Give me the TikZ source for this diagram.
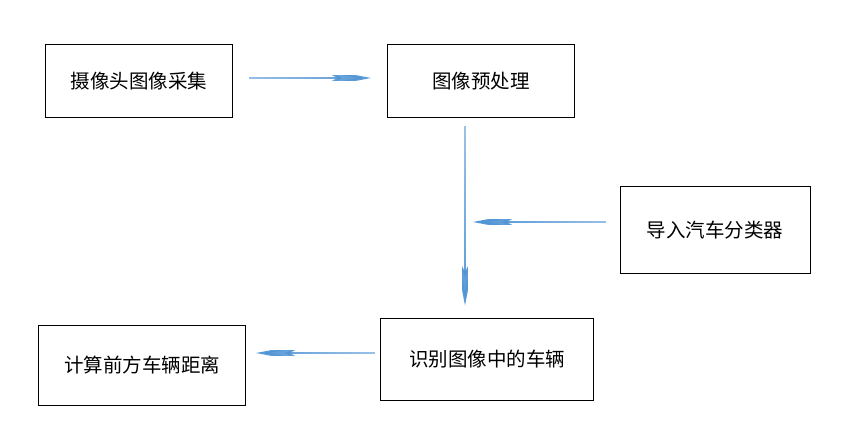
\documentclass[tikz,border=0pt]{standalone}
\usepackage{fontspec}
\setmainfont{Noto Sans CJK SC}
\usepackage{tikz}
\definecolor{flowblue}{RGB}{80,148,212}
\usetikzlibrary{arrows.meta,fadings}
\tikzfading[name=tailfade,left color=transparent!45,right color=transparent!0]

\begin{document}
\begin{tikzpicture}[x=1pt,y=-1pt,
    stepbox/.style={draw,line width=1pt,inner sep=0pt,font=\fontsize{19.5}{23}\selectfont},
    flow/.style={draw=flowblue,line width=2.4pt,path fading=tailfade,-{Stealth[length=52pt,width=20pt,inset=18pt,fill=flowblue]}}
]
\useasboundingbox (0,0) rectangle (844,444);
\node[stepbox,minimum width=187pt,minimum height=72pt] (capture) at (139,81) {摄像头图像采集};
\node[stepbox,minimum width=187pt,minimum height=72pt] (prep) at (481,81) {图像预处理};
\node[stepbox,minimum width=190pt,minimum height=87pt] (classifier) at (715,230) {导入汽车分类器};
\node[stepbox,minimum width=213pt,minimum height=82pt] (detect) at (487,359) {识别图像中的车辆};
\node[stepbox,minimum width=207pt,minimum height=80pt] (distance) at (142,365) {计算前方车辆距离};
\coordinate (join) at (473,222);

\draw[flow,shorten <=16pt,shorten >=16pt] ([yshift=3pt]capture.east) -- ([yshift=3pt]prep.west);
\draw[flow,fading angle=-90,shorten <=8pt,shorten >=12pt] ([xshift=-16pt]prep.south) -- ([xshift=-22pt]detect.north);
\draw[flow,fading angle=180,shorten <=13pt] (classifier.west |- join) -- (join);
\draw[flow,fading angle=180,shorten <=5pt,shorten >=10pt] ([yshift=6pt]detect.west) -- ([yshift=6pt]detect.west -| distance.east);
\end{tikzpicture}
\end{document}
